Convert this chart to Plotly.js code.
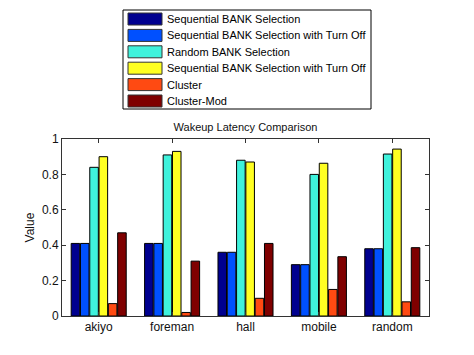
<!DOCTYPE html>
<html>
<head>
<meta charset="utf-8">
<script src="https://cdn.plot.ly/plotly-3.0.1.min.js"></script>
<style>html,body{margin:0;padding:0;background:#fff;}#chart{width:474px;height:355px;}</style>
</head>
<body>
<div id="chart"></div>
<script>
const categories = ['akiyo', 'foreman', 'hall', 'mobile', 'random'];
const seriesNames = [
  'Sequential BANK Selection',
  'Sequential BANK Selection with Turn Off',
  'Random BANK Selection',
  'Sequential BANK Selection with Turn Off',
  'Cluster',
  'Cluster-Mod'
];
const seqBank        = [0.41, 0.41, 0.36, 0.29, 0.38];
const seqBankTurnOff = [0.41, 0.41, 0.36, 0.29, 0.38];
const randomBank     = [0.84, 0.91, 0.88, 0.80, 0.915];
const seqBankTurnOff2= [0.90, 0.93, 0.87, 0.863, 0.943];
const cluster        = [0.07, 0.02, 0.10, 0.15, 0.08];
const clusterMod     = [0.47, 0.31, 0.41, 0.335, 0.386];
const seriesValues = [seqBank, seqBankTurnOff, randomBank, seqBankTurnOff2, cluster, clusterMod];
const colors = ['#00008F', '#0050FF', '#3FF2DC', '#FFFF22', '#FF4A12', '#7F0000'];
const yTicks = [0, 0.2, 0.4, 0.6, 0.8, 1];
const yTickText = ['0', '0.2', '0.4', '0.6', '0.8', '1'];

const W = 474, H = 355;
const M = {l: 62, r: 45, t: 139, b: 39};
const plotH = H - M.t - M.b;
const plotW = W - M.l - M.r;
const py = p => (H - M.b - p) / plotH;
const px = p => (p - M.l) / plotW;

const traces = seriesValues.map((vals, i) => ({
  type: 'bar',
  x: categories,
  y: vals,
  name: seriesNames[i],
  marker: {color: colors[i], line: {color: '#000', width: 1}},
  showlegend: false,
  hoverinfo: 'skip'
}));

// custom legend (wide swatches like the original)
const shapes = [{
  type: 'rect', xref: 'paper', yref: 'paper',
  x0: px(123), x1: px(371), y0: py(109), y1: py(10),
  line: {color: '#000', width: 1}, fillcolor: '#fff', layer: 'above'
}];
const annotations = [];
const pitch = 16.4;
seriesNames.forEach((n, i) => {
  const cy = 19 + i * pitch;
  shapes.push({
    type: 'rect', xref: 'paper', yref: 'paper',
    x0: px(128), x1: px(162), y0: py(cy + 6), y1: py(cy - 6),
    fillcolor: colors[i], line: {color: '#333', width: 1}, layer: 'above'
  });
  annotations.push({
    xref: 'paper', yref: 'paper', x: px(165), y: py(cy),
    xanchor: 'left', yanchor: 'middle', showarrow: false,
    text: n, font: {family: 'Liberation Sans, Arial, sans-serif', size: 11, color: '#000'}
  });
});

const layout = {
  width: W, height: H,
  margin: M,
  paper_bgcolor: '#fff', plot_bgcolor: '#fff',
  font: {family: 'Liberation Sans, Arial, sans-serif', size: 12, color: '#111'},
  barmode: 'group',
  bargap: 0.24,
  bargroupgap: 0.08,
  showlegend: false,
  title: {text: 'Wakeup Latency Comparison', font: {size: 11, color: '#111'}, x: 0.5, xref: 'paper', xanchor: 'center', yref: 'container', yanchor: 'middle'},
  xaxis: {
    type: 'category', range: [-0.5, 4.5],
    showline: true, linecolor: '#333', linewidth: 1, mirror: 'ticks',
    ticks: 'inside', ticklen: 4, tickcolor: '#333',
    showgrid: false, zeroline: false, fixedrange: true,
    tickfont: {size: 12}
  },
  yaxis: {
    range: [0, 1],
    tickvals: yTicks, ticktext: yTickText,
    showline: true, linecolor: '#333', linewidth: 1, mirror: 'ticks',
    ticks: 'inside', ticklen: 4, tickcolor: '#333',
    showgrid: false, zeroline: false, fixedrange: true,
    tickfont: {size: 12},
    title: {text: 'Value', font: {size: 12}, standoff: 4}
  },
  shapes: shapes,
  annotations: annotations
};
layout.title.y = 1 - 127 / H;

Plotly.newPlot('chart', traces, layout, {displayModeBar: false, staticPlot: true});
</script>
</body>
</html>
